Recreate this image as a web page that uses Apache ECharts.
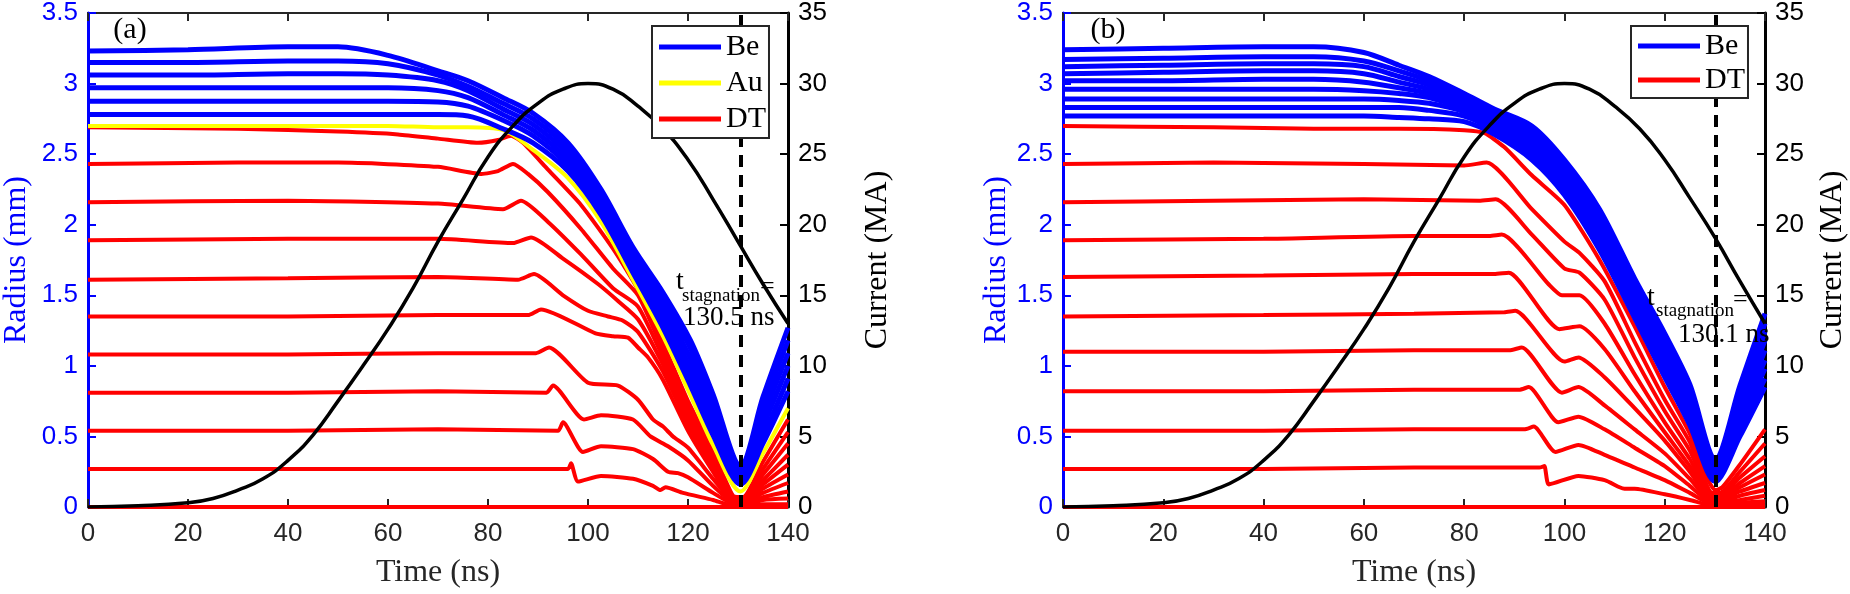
<!DOCTYPE html>
<html>
<head>
<meta charset="utf-8">
<script src="https://cdn.jsdelivr.net/npm/echarts@6/dist/echarts.min.js"></script>
<style>
  html, body { margin: 0; padding: 0; background: #fff; }
  #chart { width: 1850px; height: 594px; }
</style>
</head>
<body>
<div id="chart"></div>
<script>
// ---- data ----
// current (MA) vs time (ns)
var timeCurrent = [0, 10, 20, 25, 30, 35, 40, 45, 50, 55, 60, 65, 70, 75, 80, 85, 90, 95, 100, 105, 110, 115, 120, 125, 130, 135, 140];
var currentA = [0, 0.08, 0.3, 0.6, 1.2, 2.0, 3.3, 5.1, 7.5, 10, 12.6, 15.5, 18.8, 21.8, 24.8, 27, 28.6, 29.6, 30, 29.6, 28.4, 26.8, 24.6, 21.8, 18.8, 15.8, 13];
var currentB = [0, 0.08, 0.3, 0.6, 1.2, 2.0, 3.3, 5.1, 7.5, 10, 12.6, 15.5, 18.8, 21.8, 24.8, 27, 28.6, 29.6, 30, 29.6, 28.4, 26.8, 24.6, 21.9, 19.1, 16, 13];

var tStagA = 130.5;
var tStagB = 130.1;

// panel (a) Be liner boundaries, sampled at tBeA
var tBeA = [0, 20, 40, 50, 60, 70, 76, 83, 89, 96, 102.6, 109, 115, 120.5, 125, 130.5, 135, 140];
var beA = [
    [3.23, 3.24, 3.26, 3.26, 3.20, 3.09, 3.02, 2.90, 2.79, 2.58, 2.25, 1.84, 1.52, 1.18, 0.80, 0.29, 0.78, 1.27],
    [3.15, 3.15, 3.16, 3.16, 3.14, 3.06, 2.98, 2.86, 2.75, 2.54, 2.21, 1.80, 1.47, 1.12, 0.74, 0.26, 0.71, 1.18],
    [3.06, 3.06, 3.07, 3.07, 3.06, 3.02, 2.95, 2.82, 2.71, 2.50, 2.18, 1.76, 1.42, 1.05, 0.68, 0.23, 0.64, 1.09],
    [2.97, 2.97, 2.97, 2.97, 2.97, 2.95, 2.90, 2.78, 2.67, 2.46, 2.14, 1.73, 1.37, 0.98, 0.62, 0.20, 0.57, 1.00],
    [2.875, 2.875, 2.875, 2.875, 2.875, 2.87, 2.84, 2.74, 2.63, 2.42, 2.11, 1.69, 1.32, 0.92, 0.56, 0.18, 0.50, 0.91],
    [2.78, 2.78, 2.78, 2.78, 2.78, 2.78, 2.77, 2.68, 2.58, 2.38, 2.07, 1.66, 1.27, 0.86, 0.51, 0.16, 0.45, 0.82]
];
var auA = [2.70, 2.70, 2.70, 2.70, 2.70, 2.69, 2.69, 2.67, 2.53, 2.33, 2.02, 1.61, 1.21, 0.79, 0.44, 0.11, 0.38, 0.70];

// panel (a) DT layers, [time, radius]
var dtA = [
    [[0,2.69],[30,2.68],[50,2.66],[62,2.64],[70,2.61],[78,2.58],[82,2.60],[84.6,2.63],[87,2.58],[92,2.39],[98.6,2.14],[105,1.83],[110,1.54],[115,1.16],[120,0.75],[125,0.40],[129,0.08],[131,0.07],[135,0.32],[140,0.62]],
    [[0,2.43],[30,2.44],[50,2.44],[70,2.41],[78.7,2.36],[82,2.38],[85,2.43],[88,2.36],[92,2.23],[98.6,1.97],[105,1.69],[110,1.50],[115,1.11],[120,0.71],[125,0.37],[129,0.07],[131,0.06],[135,0.27],[140,0.53]],
    [[0,2.16],[40,2.17],[70,2.15],[83,2.11],[86.6,2.17],[92,2.02],[98.6,1.79],[105,1.55],[110,1.42],[115,1.06],[120,0.67],[125,0.34],[129,0.06],[131,0.05],[135,0.23],[140,0.45]],
    [[0,1.89],[40,1.90],[70,1.90],[85,1.87],[88.6,1.91],[95,1.76],[102,1.58],[106,1.46],[110,1.33],[115,1.01],[120,0.63],[125,0.31],[129,0.05],[131,0.04],[135,0.19],[140,0.37]],
    [[0,1.61],[40,1.62],[70,1.63],[86,1.61],[89.2,1.65],[95,1.50],[100,1.39],[104,1.35],[107,1.32],[110,1.24],[115,0.96],[120,0.59],[125,0.28],[129,0.05],[131,0.04],[135,0.16],[140,0.30]],
    [[0,1.35],[40,1.35],[70,1.36],[88,1.36],[90.6,1.40],[101.5,1.23],[105,1.21],[108,1.20],[110,1.13],[112,1.06],[115,0.90],[120,0.54],[125,0.25],[129,0.04],[131,0.03],[135,0.13],[140,0.23]],
    [[0,1.08],[40,1.08],[70,1.09],[89.6,1.09],[92.2,1.13],[100,0.88],[106,0.86],[110,0.76],[113,0.62],[115,0.57],[117,0.50],[120,0.42],[125,0.20],[129,0.04],[131,0.03],[135,0.10],[140,0.17]],
    [[0,0.81],[40,0.81],[70,0.82],[91.7,0.81],[93,0.86],[99.2,0.62],[102.6,0.65],[109,0.62],[112.5,0.50],[116,0.43],[120,0.33],[125,0.15],[129,0.03],[131,0.02],[135,0.07],[140,0.11]],
    [[0,0.54],[40,0.54],[70,0.55],[94,0.54],[95,0.60],[99,0.39],[102.6,0.43],[109,0.41],[113,0.34],[116,0.25],[118,0.24],[120,0.21],[125,0.10],[129,0.02],[131,0.01],[135,0.05],[140,0.06]],
    [[0,0.27],[40,0.27],[70,0.27],[96,0.27],[96.6,0.31],[98,0.18],[102.6,0.22],[109,0.20],[113,0.15],[114.5,0.12],[115.5,0.14],[119,0.10],[125,0.05],[129,0.01],[131,0.01],[135,0.02],[140,0.02]],
    [[0,0],[140,0]]
];

// panel (b) Be liner boundaries, sampled at tBeB
var tBeB = [0, 20, 40, 50, 60, 67, 73, 80, 86, 93.5, 100, 107, 114, 120, 125, 130.1, 135, 140];
var beB = [
    [3.24, 3.25, 3.26, 3.26, 3.22, 3.13, 3.05, 2.93, 2.82, 2.70, 2.46, 2.11, 1.62, 1.23, 0.87, 0.34, 0.86, 1.37],
    [3.17, 3.18, 3.19, 3.19, 3.16, 3.09, 3.02, 2.90, 2.79, 2.67, 2.43, 2.07, 1.58, 1.19, 0.83, 0.32, 0.81, 1.30],
    [3.12, 3.13, 3.14, 3.14, 3.12, 3.05, 2.99, 2.88, 2.77, 2.64, 2.40, 2.04, 1.55, 1.15, 0.79, 0.29, 0.76, 1.24],
    [3.07, 3.08, 3.09, 3.09, 3.07, 3.01, 2.96, 2.86, 2.75, 2.61, 2.37, 2.00, 1.51, 1.11, 0.75, 0.27, 0.72, 1.18],
    [3.02, 3.02, 3.03, 3.03, 3.01, 2.97, 2.93, 2.84, 2.73, 2.58, 2.34, 1.96, 1.47, 1.07, 0.71, 0.25, 0.67, 1.11],
    [2.96, 2.96, 2.96, 2.96, 2.95, 2.93, 2.90, 2.82, 2.71, 2.55, 2.31, 1.93, 1.44, 1.03, 0.68, 0.23, 0.63, 1.04],
    [2.89, 2.89, 2.89, 2.89, 2.89, 2.88, 2.86, 2.80, 2.69, 2.52, 2.28, 1.89, 1.41, 1.00, 0.65, 0.21, 0.59, 0.98],
    [2.83, 2.83, 2.83, 2.83, 2.83, 2.83, 2.81, 2.77, 2.67, 2.49, 2.25, 1.86, 1.37, 0.96, 0.61, 0.20, 0.55, 0.91],
    [2.77, 2.77, 2.77, 2.77, 2.77, 2.76, 2.75, 2.73, 2.64, 2.46, 2.21, 1.82, 1.34, 0.92, 0.58, 0.18, 0.50, 0.85]
];

// panel (b) DT layers, [time, radius]
var dtB = [
    [[0,2.70],[30,2.69],[50,2.68],[67,2.68],[80,2.67],[84,2.65],[88,2.55],[93.5,2.35],[100,2.14],[107,1.75],[114,1.28],[120,0.85],[125,0.52],[128.5,0.20],[130.1,0.12],[131.5,0.14],[135,0.30],[140,0.55]],
    [[0,2.43],[30,2.44],[60,2.43],[80,2.42],[84.5,2.44],[93.5,2.11],[100,1.88],[103,1.80],[108,1.60],[114,1.17],[120,0.76],[125,0.46],[129.5,0.10],[131,0.10],[135,0.25],[140,0.45]],
    [[0,2.16],[30,2.17],[60,2.18],[83,2.17],[86.3,2.18],[93.5,1.93],[100,1.69],[103,1.66],[108,1.47],[114,1.06],[120,0.68],[125,0.40],[129.5,0.09],[131,0.09],[135,0.21],[140,0.36]],
    [[0,1.89],[40,1.90],[70,1.92],[85,1.92],[87.5,1.93],[96.8,1.58],[99.5,1.50],[103,1.50],[108,1.30],[114,0.94],[120,0.60],[125,0.34],[129.5,0.07],[131,0.07],[135,0.17],[140,0.29]],
    [[0,1.63],[40,1.64],[70,1.65],[86,1.65],[88.9,1.66],[99,1.26],[103,1.28],[108,1.12],[114,0.82],[120,0.53],[125,0.29],[129.5,0.06],[131,0.06],[135,0.14],[140,0.23]],
    [[0,1.35],[40,1.36],[70,1.37],[88,1.38],[90.2,1.39],[100,1.03],[102.8,1.06],[108,0.92],[114,0.70],[120,0.47],[125,0.25],[129.5,0.05],[131,0.05],[135,0.11],[140,0.17]],
    [[0,1.10],[40,1.10],[70,1.11],[89,1.11],[91.5,1.13],[99.5,0.81],[102.8,0.85],[108,0.72],[114,0.55],[120,0.38],[125,0.20],[129.5,0.04],[131,0.04],[135,0.08],[140,0.12]],
    [[0,0.82],[40,0.82],[70,0.83],[91,0.83],[92.9,0.85],[98.8,0.60],[102.8,0.64],[108,0.55],[114,0.42],[120,0.29],[125,0.15],[129.5,0.03],[131,0.03],[135,0.05],[140,0.08]],
    [[0,0.54],[40,0.54],[70,0.55],[92,0.55],[93.9,0.57],[98.2,0.39],[102.8,0.44],[108,0.37],[114,0.28],[120,0.19],[125,0.10],[129.5,0.02],[131,0.02],[135,0.03],[140,0.04]],
    [[0,0.27],[40,0.27],[70,0.28],[95,0.28],[96,0.29],[96.9,0.16],[102.8,0.22],[108,0.19],[111,0.14],[112,0.13],[114,0.13],[120,0.09],[125,0.05],[129.5,0.01],[131,0.01],[135,0.01],[140,0.02]],
    [[0,0],[140,0]]
];

// ---- chart ----
var BLUE = '#0000ff', RED = '#ff0000', YELLOW = '#ffff00', INK = '#262626';
var SERIF = '"Liberation Serif", "DejaVu Serif", serif';
var SANS = '"Liberation Sans", Arial, sans-serif';

function zip(ts, rs) {
    return ts.map(function (t, i) { return [t, rs[i]]; });
}

var series = [];
function addLine(name, data, color, width, xi, yi, z, smooth) {
    var s = {
        type: 'line', name: name, data: data,
        xAxisIndex: xi, yAxisIndex: yi,
        symbol: 'none', showSymbol: false, smooth: smooth,
        lineStyle: { color: color, width: width },
        itemStyle: { color: color },
        silent: true, animation: false, z: z
    };
    series.push(s);
    return s;
}

// panel (a)
beA.forEach(function (r) { addLine('Be', zip(tBeA, r), BLUE, 5, 0, 0, 4, 0.3); });
addLine('Au', zip(tBeA, auA), YELLOW, 4, 0, 0, 3, 0.3);
dtA.forEach(function (d) { addLine('DT', d, RED, 4, 0, 0, 2, 0.2); });
var curA = addLine('Current', zip(timeCurrent, currentA), '#000', 3.5, 0, 1, 5, 0.5);
curA.markLine = {
    silent: true, symbol: ['none', 'none'], label: { show: false },
    lineStyle: { color: '#000', width: 4, type: [12, 8] },
    data: [{ xAxis: tStagA }]
};

// panel (b)
beB.forEach(function (r) { addLine('Be', zip(tBeB, r), BLUE, 5, 2, 2, 4, 0.3); });
dtB.forEach(function (d) { addLine('DT', d, RED, 4, 2, 2, 2, 0.2); });
var curB = addLine('Current', zip(timeCurrent, currentB), '#000', 3.5, 2, 3, 5, 0.5);
curB.markLine = {
    silent: true, symbol: ['none', 'none'], label: { show: false },
    lineStyle: { color: '#000', width: 4, type: [12, 8] },
    data: [{ xAxis: tStagB }]
};

function timeAxis(grid, pos) {
    var bottom = pos === 'bottom';
    return {
        gridIndex: grid, type: 'value', position: pos, min: 0, max: 140, interval: 20,
        axisLine: { show: true, onZero: false, lineStyle: { color: INK, width: 2 } },
        axisTick: { show: true, inside: true, length: 8, lineStyle: { color: INK, width: 2 } },
        axisLabel: { show: bottom, fontSize: 26, fontFamily: SANS, color: INK, margin: 14 },
        splitLine: { show: false },
        name: bottom ? 'Time (ns)' : '', nameLocation: 'middle', nameGap: 50,
        nameTextStyle: { fontFamily: SERIF, fontSize: 32, color: INK }
    };
}
function radiusAxis(grid, gap) {
    return {
        gridIndex: grid, type: 'value', position: 'left', min: 0, max: 3.5, interval: 0.5,
        axisLine: { show: true, onZero: false, lineStyle: { color: BLUE, width: 3 } },
        axisTick: { show: true, inside: true, length: 8, lineStyle: { color: BLUE, width: 2 } },
        axisLabel: { fontSize: 26, fontFamily: SANS, color: BLUE, margin: 10 },
        splitLine: { show: false },
        name: 'Radius (mm)', nameLocation: 'middle', nameRotate: 90, nameGap: gap,
        nameTextStyle: { fontFamily: SERIF, fontSize: 32, color: BLUE }
    };
}
function currentAxis(grid, gap) {
    return {
        gridIndex: grid, type: 'value', position: 'right', min: 0, max: 35, interval: 5,
        axisLine: { show: true, onZero: false, lineStyle: { color: '#000', width: 3 } },
        axisTick: { show: true, inside: true, length: 8, lineStyle: { color: '#000', width: 2 } },
        axisLabel: { fontSize: 26, fontFamily: SANS, color: '#000', margin: 10 },
        splitLine: { show: false },
        name: 'Current (MA)', nameLocation: 'middle', nameRotate: 90, nameGap: gap,
        nameTextStyle: { fontFamily: SERIF, fontSize: 32, color: '#000' }
    };
}

// legend sits above the dashed marker and the current trace
function legendBox(left, data, lineH) {
    return {
        z: 20, left: left, top: 26, orient: 'vertical', align: 'left', data: data,
        icon: 'rect', itemWidth: 62, itemHeight: 5, itemGap: 4,
        selectedMode: false,
        backgroundColor: '#fff', borderColor: INK, borderWidth: 2,
        padding: [5, 3, 3, 7], borderRadius: 0,
        textStyle: { fontFamily: SERIF, fontSize: 30, color: '#000', lineHeight: lineH }
    };
}

function txt(x, y, s, size) {
    return {
        type: 'text', x: x, y: y, z: 10, silent: true,
        style: { text: s, font: size + 'px ' + SERIF, fill: '#000', align: 'left', verticalAlign: 'middle' }
    };
}

var chart = echarts.init(document.getElementById('chart'), null, { renderer: 'canvas' });
chart.setOption({
    animation: false,
    backgroundColor: '#fff',
    grid: [
        { left: 85, top: 9, width: 703, height: 499, show: true, borderColor: INK, borderWidth: 2, backgroundColor: 'transparent' },
        { left: 1063, top: 9, width: 704, height: 500, show: true, borderColor: INK, borderWidth: 2, backgroundColor: 'transparent' }
    ],
    xAxis: [timeAxis(0, 'bottom'), timeAxis(0, 'top'), timeAxis(1, 'bottom'), timeAxis(1, 'top')],
    yAxis: [radiusAxis(0, 55), currentAxis(0, 74), radiusAxis(1, 47), currentAxis(1, 52)],
    legend: [
        legendBox(652, ['Be', 'Au', 'DT'], 32),
        legendBox(1631, ['Be', 'DT'], 29)
    ],
    graphic: [
        { type: 'text', x: 130, y: 30, z: 10, silent: true, style: { text: '(a)', font: '30px ' + SERIF, fill: '#000', align: 'center', verticalAlign: 'middle' } },
        { type: 'text', x: 1108, y: 30, z: 10, silent: true, style: { text: '(b)', font: '30px ' + SERIF, fill: '#000', align: 'center', verticalAlign: 'middle' } },
        txt(676, 282, 't', 28), txt(682, 296, 'stagnation', 19), txt(760, 287, '=', 26), txt(683, 318, '130.5 ns', 27),
        txt(1647, 298, 't', 28), txt(1656, 311, 'stagnation', 19), txt(1733, 300, '=', 26), txt(1678, 335, '130.1 ns', 27)
    ],
    series: series
});
</script>
</body>
</html>
